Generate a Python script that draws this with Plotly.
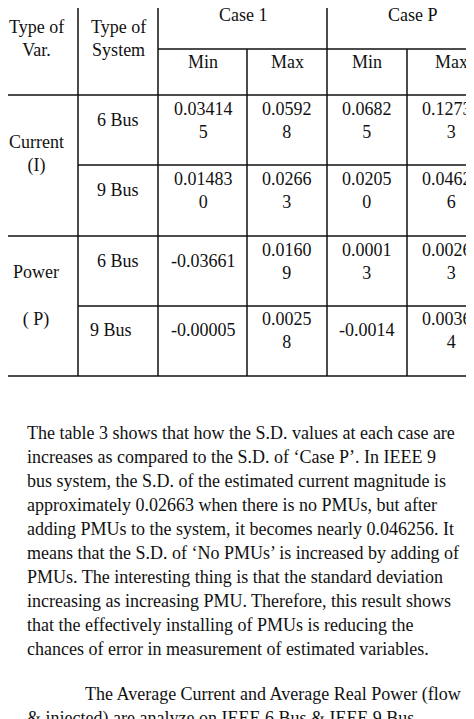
import plotly.graph_objects as go

# table content
var_types = ["Current<br>(I)", "Power<br><br>( P)"]
systems = ["6 Bus", "9 Bus", "6 Bus", "9 Bus"]
cases = ["Case 1", "Case P"]
sub_cols = ["Min", "Max", "Min", "Max"]
cells = [
    ["0.03414<br>5", "0.0592<br>8", "0.0682<br>5", "0.12733<br>3"],
    ["0.01483<br>0", "0.0266<br>3", "0.0205<br>0", "0.04625<br>6"],
    ["-0.03661", "0.0160<br>9", "0.0001<br>3", "0.00265<br>3"],
    ["-0.00005", "0.0025<br>8", "-0.0014", "0.00361<br>4"],
]
paragraph = [
    "The table 3 shows that how the S.D. values at each case are",
    "increases as compared to the S.D. of \u2018Case P\u2019. In IEEE 9",
    "bus system, the S.D. of the estimated current magnitude is",
    "approximately 0.02663 when there is no PMUs, but after",
    "adding PMUs to the system, it becomes nearly 0.046256. It",
    "means that the S.D. of \u2018No PMUs\u2019 is increased by adding of",
    "PMUs. The interesting thing is that the standard deviation",
    "increasing as increasing PMU. Therefore, this result shows",
    "that the effectively installing of PMUs is reducing the",
    "chances of error in measurement of estimated variables.",
]
paragraph2 = [
    "The Average Current and Average Real Power (flow",
    "& injected) are analyze on IEEE 6 Bus & IEEE 9 Bus",
]

FONT = dict(family="Liberation Serif, Times New Roman, serif", size=18, color="#111")
W, H = 474, 719
col_x = [195, 279, 359, 443]
row_mid = [112, 182, 253, 322]

fig = go.Figure()
fig.add_trace(go.Scatter(x=[0], y=[0], mode="markers", marker=dict(opacity=0), hoverinfo="skip"))


def line(x0, y0, x1, y1):
    fig.add_shape(type="line", x0=x0, y0=y0, x1=x1, y1=y1, line=dict(color="#111", width=1.5))


def text(x, y, s, anchor="center"):
    fig.add_annotation(x=x, y=y, text=s, showarrow=False, xanchor=anchor, yanchor="middle",
                       font=FONT, align="center")


# grid
line(70, 0, 70, 368)
line(150, 0, 150, 368)
line(319, 0, 319, 368)
line(239, 41, 239, 368)
line(399, 41, 399, 368)
line(150, 41, W, 41)
for y in (87, 228, 368):
    line(0, y, W, y)
for y in (157, 298):
    line(70, y, W, y)

# header
text(28, 30, "Type of<br>Var.")
text(110, 30, "Type of<br>System")
text(235, 7, cases[0])
text(405, 7, cases[1])
for cx, s in zip(col_x, sub_cols):
    text(cx, 54, s)

# body
text(28, 146, var_types[0])
text(28, 288, var_types[1])
sys_x = [110, 110, 110, 103]
for i, s in enumerate(systems):
    text(sys_x[i], row_mid[i], s)
    for j, v in enumerate(cells[i]):
        text(col_x[j], row_mid[i], v)

# paragraph
for k, s in enumerate(paragraph):
    text(17, 425 + 24 * k, s, anchor="left")
text(75, 686, paragraph2[0], anchor="left")
text(17, 710, paragraph2[1], anchor="left")

fig.update_layout(
    width=W, height=H, margin=dict(l=0, r=0, t=0, b=0, autoexpand=False),
    paper_bgcolor="white", plot_bgcolor="white", showlegend=False,
    xaxis=dict(range=[0, W], visible=False, fixedrange=True),
    yaxis=dict(range=[H, 0], visible=False, fixedrange=True),
)
fig.write_html("out.html")
